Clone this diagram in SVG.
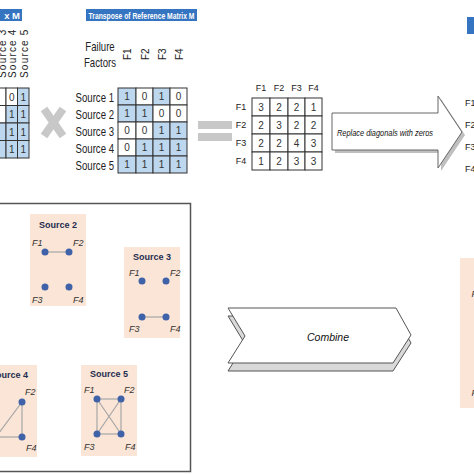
<svg xmlns="http://www.w3.org/2000/svg" width="474" height="474" viewBox="0 0 474 474">
<style>
.hdr{fill:#3574c0}
.hdrt{fill:#fff;font-family:"Liberation Sans",Arial,sans-serif;font-weight:bold;font-size:9.5px}
.lbl{font-family:"Liberation Sans",Arial,sans-serif;fill:#222}
.cell{stroke:#333;stroke-width:1}
.b{fill:#bdd7ee}
.w{fill:#fff}
.val{font-family:"Liberation Sans",Arial,sans-serif;font-size:10px;fill:#333;text-anchor:middle}
.fl{font-family:"Liberation Sans",Arial,sans-serif;font-size:9px;fill:#222}
.src{fill:#fbe5d6}
.st{font-family:"Liberation Sans",Arial,sans-serif;font-weight:bold;font-size:9px;fill:#1f2d50;text-anchor:middle}
.it{font-family:"Liberation Sans",Arial,sans-serif;font-style:italic;font-size:9px;fill:#333}
.nd{fill:#4062a8}
.ed{stroke:#a6a6a6;stroke-width:1.2;fill:none}
.gr{fill:#c8c8c8}
</style>

<!-- Reference matrix M (partial) -->
<g id="matrixM">
<rect class="hdr" x="-2" y="9" width="24" height="12"/>
<text class="hdrt" x="20" y="18.5" text-anchor="end">x M</text>
<text class="lbl" font-size="10" fill="#444" letter-spacing="1.2" transform="translate(6,78) rotate(-90)">Source 3</text>
<text class="lbl" font-size="10" fill="#444" letter-spacing="1.2" transform="translate(16,78) rotate(-90)">Source 4</text>
<text class="lbl" font-size="10" fill="#444" letter-spacing="1.2" transform="translate(27.5,78) rotate(-90)">Source 5</text>
<rect class="cell w" x="-6" y="88" width="12" height="17.5"/>
<rect class="cell w" x="6" y="88" width="11.5" height="17.5"/>
<rect class="cell b" x="17.5" y="88" width="11.5" height="17.5"/>
<rect class="cell w" x="-6" y="105.5" width="12" height="17.5"/>
<rect class="cell b" x="6" y="105.5" width="11.5" height="17.5"/>
<rect class="cell b" x="17.5" y="105.5" width="11.5" height="17.5"/>
<rect class="cell b" x="-6" y="123" width="12" height="17.5"/>
<rect class="cell b" x="6" y="123" width="11.5" height="17.5"/>
<rect class="cell b" x="17.5" y="123" width="11.5" height="17.5"/>
<rect class="cell b" x="-6" y="140.5" width="12" height="17.5"/>
<rect class="cell b" x="6" y="140.5" width="11.5" height="17.5"/>
<rect class="cell b" x="17.5" y="140.5" width="11.5" height="17.5"/>
<text class="val" x="11.8" y="100.5">0</text><text class="val" x="23.3" y="100.5">1</text>
<text class="val" x="11.8" y="118">1</text><text class="val" x="23.3" y="118">1</text>
<text class="val" x="11.8" y="135.5">1</text><text class="val" x="23.3" y="135.5">1</text>
<text class="val" x="11.8" y="153">1</text><text class="val" x="23.3" y="153">1</text>
</g>

<!-- multiply sign -->
<g id="times" stroke="#c8c8c8" stroke-width="8">
<line x1="44" y1="109" x2="63" y2="136"/>
<line x1="63" y1="109" x2="44" y2="136"/>
</g>

<!-- Transpose matrix -->
<g id="transpose">
<rect class="hdr" x="86" y="9" width="111" height="12"/>
<text class="hdrt" x="141.5" y="18.5" text-anchor="middle" textLength="106" lengthAdjust="spacingAndGlyphs">Transpose of Reference Matrix M</text>
<text class="lbl" font-size="12" transform="translate(100,51) scale(0.8,1)" text-anchor="middle">Failure</text>
<text class="lbl" font-size="12" transform="translate(100,67) scale(0.8,1)" text-anchor="middle">Factors</text>
<text class="lbl" font-size="10" transform="translate(131,60) rotate(-90)">F1</text>
<text class="lbl" font-size="10" transform="translate(149,60) rotate(-90)">F2</text>
<text class="lbl" font-size="10" transform="translate(166,60) rotate(-90)">F3</text>
<text class="lbl" font-size="10" transform="translate(183,60) rotate(-90)">F4</text>
<g class="lbl" font-size="13" text-anchor="end">
<text transform="translate(114,101.5) scale(0.74,1)">Source 1</text>
<text transform="translate(114,118.5) scale(0.74,1)">Source 2</text>
<text transform="translate(114,135.5) scale(0.74,1)">Source 3</text>
<text transform="translate(114,152.5) scale(0.74,1)">Source 4</text>
<text transform="translate(114,169.5) scale(0.74,1)">Source 5</text>
</g>
<rect class="cell b" x="118" y="88" width="18" height="17"/><rect class="cell w" x="136" y="88" width="17" height="17"/><rect class="cell b" x="153" y="88" width="17" height="17"/><rect class="cell w" x="170" y="88" width="17" height="17"/>
<rect class="cell b" x="118" y="105" width="18" height="17"/><rect class="cell b" x="136" y="105" width="17" height="17"/><rect class="cell w" x="153" y="105" width="17" height="17"/><rect class="cell w" x="170" y="105" width="17" height="17"/>
<rect class="cell w" x="118" y="122" width="18" height="17"/><rect class="cell w" x="136" y="122" width="17" height="17"/><rect class="cell b" x="153" y="122" width="17" height="17"/><rect class="cell b" x="170" y="122" width="17" height="17"/>
<rect class="cell w" x="118" y="139" width="18" height="17"/><rect class="cell b" x="136" y="139" width="17" height="17"/><rect class="cell b" x="153" y="139" width="17" height="17"/><rect class="cell b" x="170" y="139" width="17" height="17"/>
<rect class="cell b" x="118" y="156" width="18" height="17"/><rect class="cell b" x="136" y="156" width="17" height="17"/><rect class="cell b" x="153" y="156" width="17" height="17"/><rect class="cell b" x="170" y="156" width="17" height="17"/>
<text class="val" x="127" y="100">1</text><text class="val" x="144.5" y="100">0</text><text class="val" x="161.5" y="100">1</text><text class="val" x="178.5" y="100">0</text>
<text class="val" x="127" y="117">1</text><text class="val" x="144.5" y="117">1</text><text class="val" x="161.5" y="117">0</text><text class="val" x="178.5" y="117">0</text>
<text class="val" x="127" y="134">0</text><text class="val" x="144.5" y="134">0</text><text class="val" x="161.5" y="134">1</text><text class="val" x="178.5" y="134">1</text>
<text class="val" x="127" y="151">0</text><text class="val" x="144.5" y="151">1</text><text class="val" x="161.5" y="151">1</text><text class="val" x="178.5" y="151">1</text>
<text class="val" x="127" y="168">1</text><text class="val" x="144.5" y="168">1</text><text class="val" x="161.5" y="168">1</text><text class="val" x="178.5" y="168">1</text>
</g>

<!-- equals sign -->
<g id="equals">
<rect class="gr" x="198" y="121" width="34" height="8"/>
<rect class="gr" x="198" y="133" width="34" height="8"/>
</g>

<!-- Co-occurrence matrix -->
<g id="product">
<g class="fl" text-anchor="middle">
<text x="261" y="91">F1</text><text x="279" y="91">F2</text><text x="296.5" y="91">F3</text><text x="313.5" y="91">F4</text>
<text x="241" y="110">F1</text><text x="241" y="128">F2</text><text x="241" y="146">F3</text><text x="241" y="164">F4</text>
</g>
<g class="cell w">
<rect x="252" y="98" width="18" height="18"/><rect x="270" y="98" width="18" height="18"/><rect x="288" y="98" width="17" height="18"/><rect x="305" y="98" width="17" height="18"/>
<rect x="252" y="116" width="18" height="18"/><rect x="270" y="116" width="18" height="18"/><rect x="288" y="116" width="17" height="18"/><rect x="305" y="116" width="17" height="18"/>
<rect x="252" y="134" width="18" height="18"/><rect x="270" y="134" width="18" height="18"/><rect x="288" y="134" width="17" height="18"/><rect x="305" y="134" width="17" height="18"/>
<rect x="252" y="152" width="18" height="18"/><rect x="270" y="152" width="18" height="18"/><rect x="288" y="152" width="17" height="18"/><rect x="305" y="152" width="17" height="18"/>
</g>
<text class="val" x="261" y="111">3</text><text class="val" x="279" y="111">2</text><text class="val" x="296.5" y="111">2</text><text class="val" x="313.5" y="111">1</text>
<text class="val" x="261" y="129">2</text><text class="val" x="279" y="129">3</text><text class="val" x="296.5" y="129">2</text><text class="val" x="313.5" y="129">2</text>
<text class="val" x="261" y="147">2</text><text class="val" x="279" y="147">2</text><text class="val" x="296.5" y="147">4</text><text class="val" x="313.5" y="147">3</text>
<text class="val" x="261" y="165">1</text><text class="val" x="279" y="165">2</text><text class="val" x="296.5" y="165">3</text><text class="val" x="313.5" y="165">3</text>
</g>

<!-- Replace arrow -->
<g id="replace">
<polygon points="335,116 441,116 441,99 465,135 441,171 441,153 335,153" fill="#bfbfbf"/>
<polygon points="332,113 438,113 438,96 462,132 438,168 438,150 332,150" fill="#fff" stroke="#666" stroke-width="1"/>
<text x="385" y="135.5" text-anchor="middle" font-family="'Liberation Sans',Arial,sans-serif" font-style="italic" font-size="9.5" fill="#111" textLength="96" lengthAdjust="spacingAndGlyphs">Replace diagonals with zeros</text>
</g>

<!-- right partial matrix -->
<g id="result">
<rect class="hdr" x="467" y="17" width="10" height="17"/>
<g class="fl">
<text x="465" y="106">F1</text><text x="465" y="128">F2</text><text x="465" y="150">F3</text><text x="465" y="172">F4</text>
</g>
</g>

<!-- Sources box -->
<g id="sources">
<rect x="-3" y="203.5" width="193.5" height="268" fill="#fff" stroke="#555" stroke-width="1.5"/>
</g>

<g id="source2">
<rect class="src" x="30" y="214" width="56" height="92"/>
<text class="st" x="58" y="228">Source 2</text>
<text class="it" x="32" y="246">F1</text><text class="it" x="73" y="246">F2</text>
<text class="it" x="32" y="303">F3</text><text class="it" x="73" y="303">F4</text>
<line class="ed" x1="45" y1="252" x2="69" y2="252"/>
<circle class="nd" cx="45" cy="252" r="3.5"/><circle class="nd" cx="69" cy="252" r="3.5"/>
<circle class="nd" cx="45" cy="287" r="3.5"/><circle class="nd" cx="69" cy="287" r="3.5"/>
</g>

<g id="source3">
<rect class="src" x="124" y="247" width="56" height="91"/>
<text class="st" x="152" y="260">Source 3</text>
<text class="it" x="129" y="276">F1</text><text class="it" x="170" y="276">F2</text>
<text class="it" x="129" y="332">F3</text><text class="it" x="170" y="332">F4</text>
<line class="ed" x1="142" y1="317" x2="166" y2="317"/>
<circle class="nd" cx="142" cy="281" r="3.5"/><circle class="nd" cx="166" cy="281" r="3.5"/>
<circle class="nd" cx="142" cy="317" r="3.5"/><circle class="nd" cx="166" cy="317" r="3.5"/>
</g>

<g id="source4">
<rect class="src" x="-19" y="365" width="56" height="92"/>
<text class="st" x="9" y="378">Source 4</text>
<text class="it" x="25" y="395">F2</text>
<text class="it" x="26" y="451">F4</text>
<line class="ed" x1="22" y1="402" x2="-4" y2="437"/>
<line class="ed" x1="22" y1="402" x2="22" y2="437"/>
<line class="ed" x1="-4" y1="437" x2="22" y2="437"/>
<circle class="nd" cx="22" cy="402" r="3.5"/><circle class="nd" cx="22" cy="437" r="3.5"/>
</g>

<g id="source5">
<rect class="src" x="81" y="365" width="56" height="91"/>
<text class="st" x="109" y="377">Source 5</text>
<text class="it" x="84" y="393">F1</text><text class="it" x="124" y="393">F2</text>
<text class="it" x="84" y="450">F3</text><text class="it" x="125" y="450">F4</text>
<g class="ed">
<line x1="97" y1="399" x2="121" y2="399"/><line x1="97" y1="434" x2="121" y2="434"/>
<line x1="97" y1="399" x2="97" y2="434"/><line x1="121" y1="399" x2="121" y2="434"/>
<line x1="97" y1="399" x2="121" y2="434"/><line x1="121" y1="399" x2="97" y2="434"/>
</g>
<circle class="nd" cx="97" cy="399" r="3.5"/><circle class="nd" cx="121" cy="399" r="3.5"/>
<circle class="nd" cx="97" cy="434" r="3.5"/><circle class="nd" cx="121" cy="434" r="3.5"/>
</g>

<!-- Combine chevron -->
<g id="combine">
<polygon points="228,316 396,316 411,343 393,371 228,371 245,344" fill="#d9d9d9" stroke="#555" stroke-width="1"/>
<polygon points="228,308 396,308 411,335 393,363 228,363 245,336" fill="#fff" stroke="#555" stroke-width="1"/>
<text x="328" y="341" text-anchor="middle" font-family="'Liberation Sans',Arial,sans-serif" font-style="italic" font-size="10.5" fill="#111">Combine</text>
</g>

<!-- right partial sources -->
<g id="combined">
<rect class="src" x="460" y="258" width="20" height="150"/>
<text class="it" x="471.5" y="297">F1</text>
<text class="it" x="471.5" y="396">F3</text>
</g>
</svg>
